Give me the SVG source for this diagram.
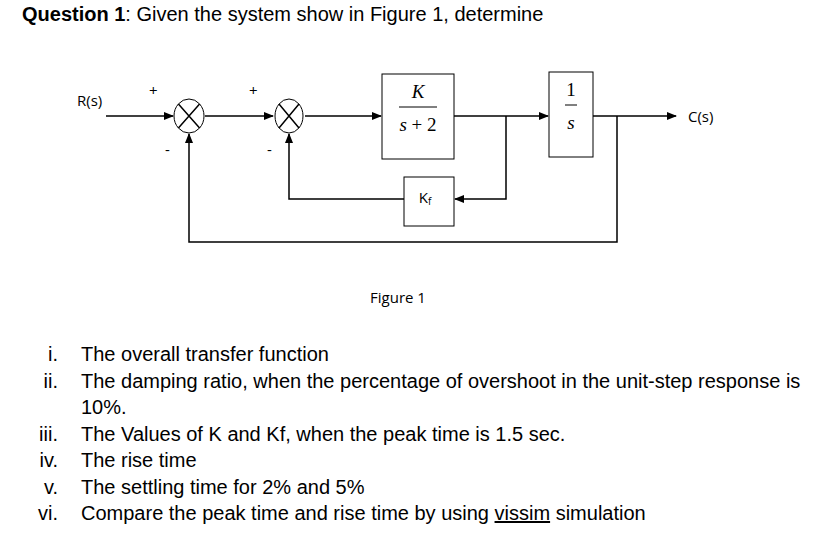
<svg xmlns="http://www.w3.org/2000/svg" width="823" height="549" viewBox="0 0 823 549">
<style>
.t{font-family:"Liberation Sans",Arial,sans-serif;font-size:20px;fill:#000}
.c{font-family:"Open Sans","DejaVu Sans",sans-serif;font-size:15px;fill:#000}
.m{font-family:"Liberation Serif","Times New Roman",serif;font-size:19px;fill:#000}
.l{stroke:#000;stroke-width:1.5;fill:none}
.b{stroke:#000;stroke-width:1;fill:#fff}
</style>
<defs><marker id="a" markerWidth="10" markerHeight="8" refX="9" refY="4" orient="auto" markerUnits="userSpaceOnUse"><path d="M0,0L10,4L0,8z" fill="#000"/></marker></defs>
<rect width="823" height="549" fill="#fff"/>
<text class="t" x="22" y="21"><tspan font-weight="bold">Question 1</tspan>: Given the system show in Figure 1, determine</text>
<g id="connectors">
<path class="l" d="M106,116H173" marker-end="url(#a)"/>
<path class="l" d="M205,116H273" marker-end="url(#a)"/>
<path class="l" d="M305,116H381" marker-end="url(#a)"/>
<path class="l" d="M454,116H548" marker-end="url(#a)"/>
<path class="l" d="M593,116H676" marker-end="url(#a)"/>
<path class="l" d="M506,116V199H455" marker-end="url(#a)"/>
<path class="l" d="M404,199H289V134" marker-end="url(#a)"/>
<path class="l" d="M617,116V242H189V134" marker-end="url(#a)"/>
</g>
<g id="sum1"><ellipse class="b" cx="189" cy="116" rx="15" ry="17"/><path class="l" stroke-width="1" d="M178.4,104L199.6,128M199.6,104L178.4,128"/></g>
<g id="sum2"><ellipse class="b" cx="289" cy="116" rx="14" ry="17"/><path class="l" stroke-width="1" d="M279,104L299,128M299,104L279,128"/></g>
<g id="g1"><rect class="b" x="382" y="74" width="72" height="85"/><text class="m" x="418" y="98" text-anchor="middle" font-style="italic">K</text><line x1="399" y1="107" x2="437" y2="107" stroke="#000"/><text class="m" x="418" y="131" text-anchor="middle"><tspan font-style="italic">s</tspan> + 2</text></g>
<g id="g2"><rect class="b" x="549" y="72" width="44" height="85"/><text class="m" x="571" y="96" text-anchor="middle">1</text><line x1="565" y1="105" x2="577" y2="105" stroke="#000"/><text class="m" x="571" y="129" text-anchor="middle" font-style="italic">s</text></g>
<g id="kf"><rect class="b" x="404" y="177" width="50" height="49"/><text class="c" x="425" y="203" text-anchor="middle">K<tspan font-size="10" dy="2">f</tspan></text></g>
<text class="c" x="77" y="106">R(s)</text>
<text class="c" x="688" y="122">C(s)</text>
<text class="c" x="149" y="96">+</text>
<text class="c" x="249" y="96">+</text>
<text class="c" x="165" y="155">-</text>
<text class="c" x="267" y="155">-</text>
<text class="c" x="398" y="303" text-anchor="middle" font-size="16">Figure 1</text>
<text class="t" x="58" y="361" text-anchor="end">i.</text><text class="t" x="81" y="361">The overall transfer function</text>
<text class="t" x="58" y="388" text-anchor="end">ii.</text><text class="t" x="81" y="388">The damping ratio, when the percentage of overshoot in the unit-step response is</text>
<text class="t" x="81" y="414">10%.</text>
<text class="t" x="58" y="441" text-anchor="end">iii.</text><text class="t" x="81" y="441">The Values of K and Kf, when the peak time is 1.5 sec.</text>
<text class="t" x="58" y="467" text-anchor="end">iv.</text><text class="t" x="81" y="467">The rise time</text>
<text class="t" x="58" y="494" text-anchor="end">v.</text><text class="t" x="81" y="494">The settling time for 2% and 5%</text>
<text class="t" x="58" y="520" text-anchor="end">vi.</text><text class="t" x="81" y="520">Compare the peak time and rise time by using <tspan text-decoration="underline">vissim</tspan> simulation</text>
</svg>
